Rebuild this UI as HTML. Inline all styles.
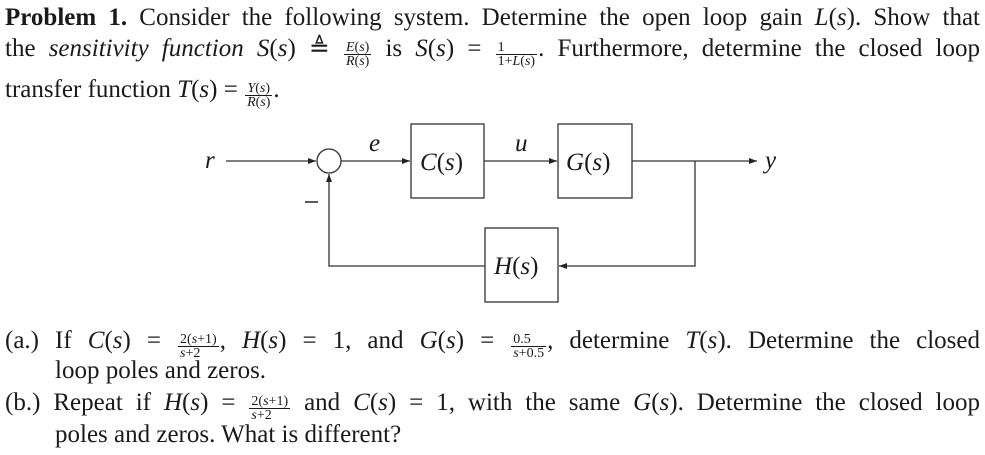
<!DOCTYPE html>
<html><head><meta charset="utf-8"><style>
body{margin:0;width:985px;height:455px;background:#fff;position:relative;overflow:hidden;font-family:"Liberation Serif",serif;color:#1a1a1a}
.l{position:absolute;font-size:25px;line-height:30px;white-space:nowrap}
.j{left:5px;width:975px;text-align:justify;text-align-last:justify;white-space:normal}
i{font-style:italic}
.f{display:inline-block;text-align:center;vertical-align:-9px;font-family:"Liberation Serif",serif;font-size:14px;line-height:13px;margin:0 1px}
.f span{display:block;padding:0 2px}
.f span:first-child{border-bottom:1px solid #1a1a1a}
</style></head><body>
<div class="l j" style="top:3px"><b>Problem 1.</b> Consider the following system. Determine the open loop gain <i>L</i>(<i>s</i>). Show that</div>
<div class="l j" style="top:34px">the <i>sensitivity function</i> <i>S</i>(<i>s</i>) ≜ <span class="f"><span><i>E</i>(<i>s</i>)</span><span><i>R</i>(<i>s</i>)</span></span> is <i>S</i>(<i>s</i>) = <span class="f"><span>1</span><span>1+<i>L</i>(<i>s</i>)</span></span>. Furthermore, determine the closed loop</div>
<div class="l" style="top:75px;left:5px">transfer function <i>T</i>(<i>s</i>) = <span class="f"><span><i>Y</i>(<i>s</i>)</span><span><i>R</i>(<i>s</i>)</span></span>.</div>

<svg style="position:absolute;left:0;top:0" width="985" height="455">
<defs><marker id="a" markerWidth="8" markerHeight="6" refX="8" refY="3" orient="auto" markerUnits="userSpaceOnUse"><path d="M0,0 L8,3 L0,6 z" fill="#222"/></marker></defs>
<g stroke="#333" stroke-width="1.3" fill="none">
<line x1="226" y1="161" x2="316" y2="161" marker-end="url(#a)"/>
<circle cx="329" cy="161" r="12"/>
<line x1="341" y1="161" x2="410" y2="161" marker-end="url(#a)"/>
<rect x="411" y="124" width="73" height="74"/>
<line x1="484" y1="161" x2="557" y2="161" marker-end="url(#a)"/>
<rect x="558" y="124" width="74" height="74"/>
<line x1="632" y1="161" x2="757" y2="161" marker-end="url(#a)"/>
<polyline points="695,161 695,266 559,266" marker-end="url(#a)"/>
<rect x="485" y="228" width="73" height="74"/>
<polyline points="485,266 329,266 329,174" marker-end="url(#a)"/>
</g>
<g font-family="Liberation Serif,serif" font-size="25" fill="#1a1a1a" font-style="italic">
<text x="205" y="168">r</text>
<text x="369" y="151">e</text>
<text x="515" y="151">u</text>
<text x="765" y="168">y</text>
<text x="420" y="170">C<tspan font-style="normal">(</tspan>s<tspan font-style="normal">)</tspan></text>
<text x="566" y="170">G<tspan font-style="normal">(</tspan>s<tspan font-style="normal">)</tspan></text>
<text x="494" y="274">H<tspan font-style="normal">(</tspan>s<tspan font-style="normal">)</tspan></text>
</g>
<line x1="305" y1="202" x2="318" y2="202" stroke="#222" stroke-width="1.5"/>
</svg>

<div class="l j" style="top:326px">(a.) If <i>C</i>(<i>s</i>) = <span class="f"><span>2(<i>s</i>+1)</span><span><i>s</i>+2</span></span>, <i>H</i>(<i>s</i>) = 1, and <i>G</i>(<i>s</i>) = <span class="f"><span>0.5</span><span><i>s</i>+0.5</span></span>, determine <i>T</i>(<i>s</i>). Determine the closed</div>
<div class="l" style="top:356px;left:55px">loop poles and zeros.</div>
<div class="l j" style="top:388px">(b.) Repeat if <i>H</i>(<i>s</i>) = <span class="f"><span>2(<i>s</i>+1)</span><span><i>s</i>+2</span></span> and <i>C</i>(<i>s</i>) = 1, with the same <i>G</i>(<i>s</i>). Determine the closed loop</div>
<div class="l" style="top:420px;left:55px">poles and zeros. What is different?</div>
</body></html>
